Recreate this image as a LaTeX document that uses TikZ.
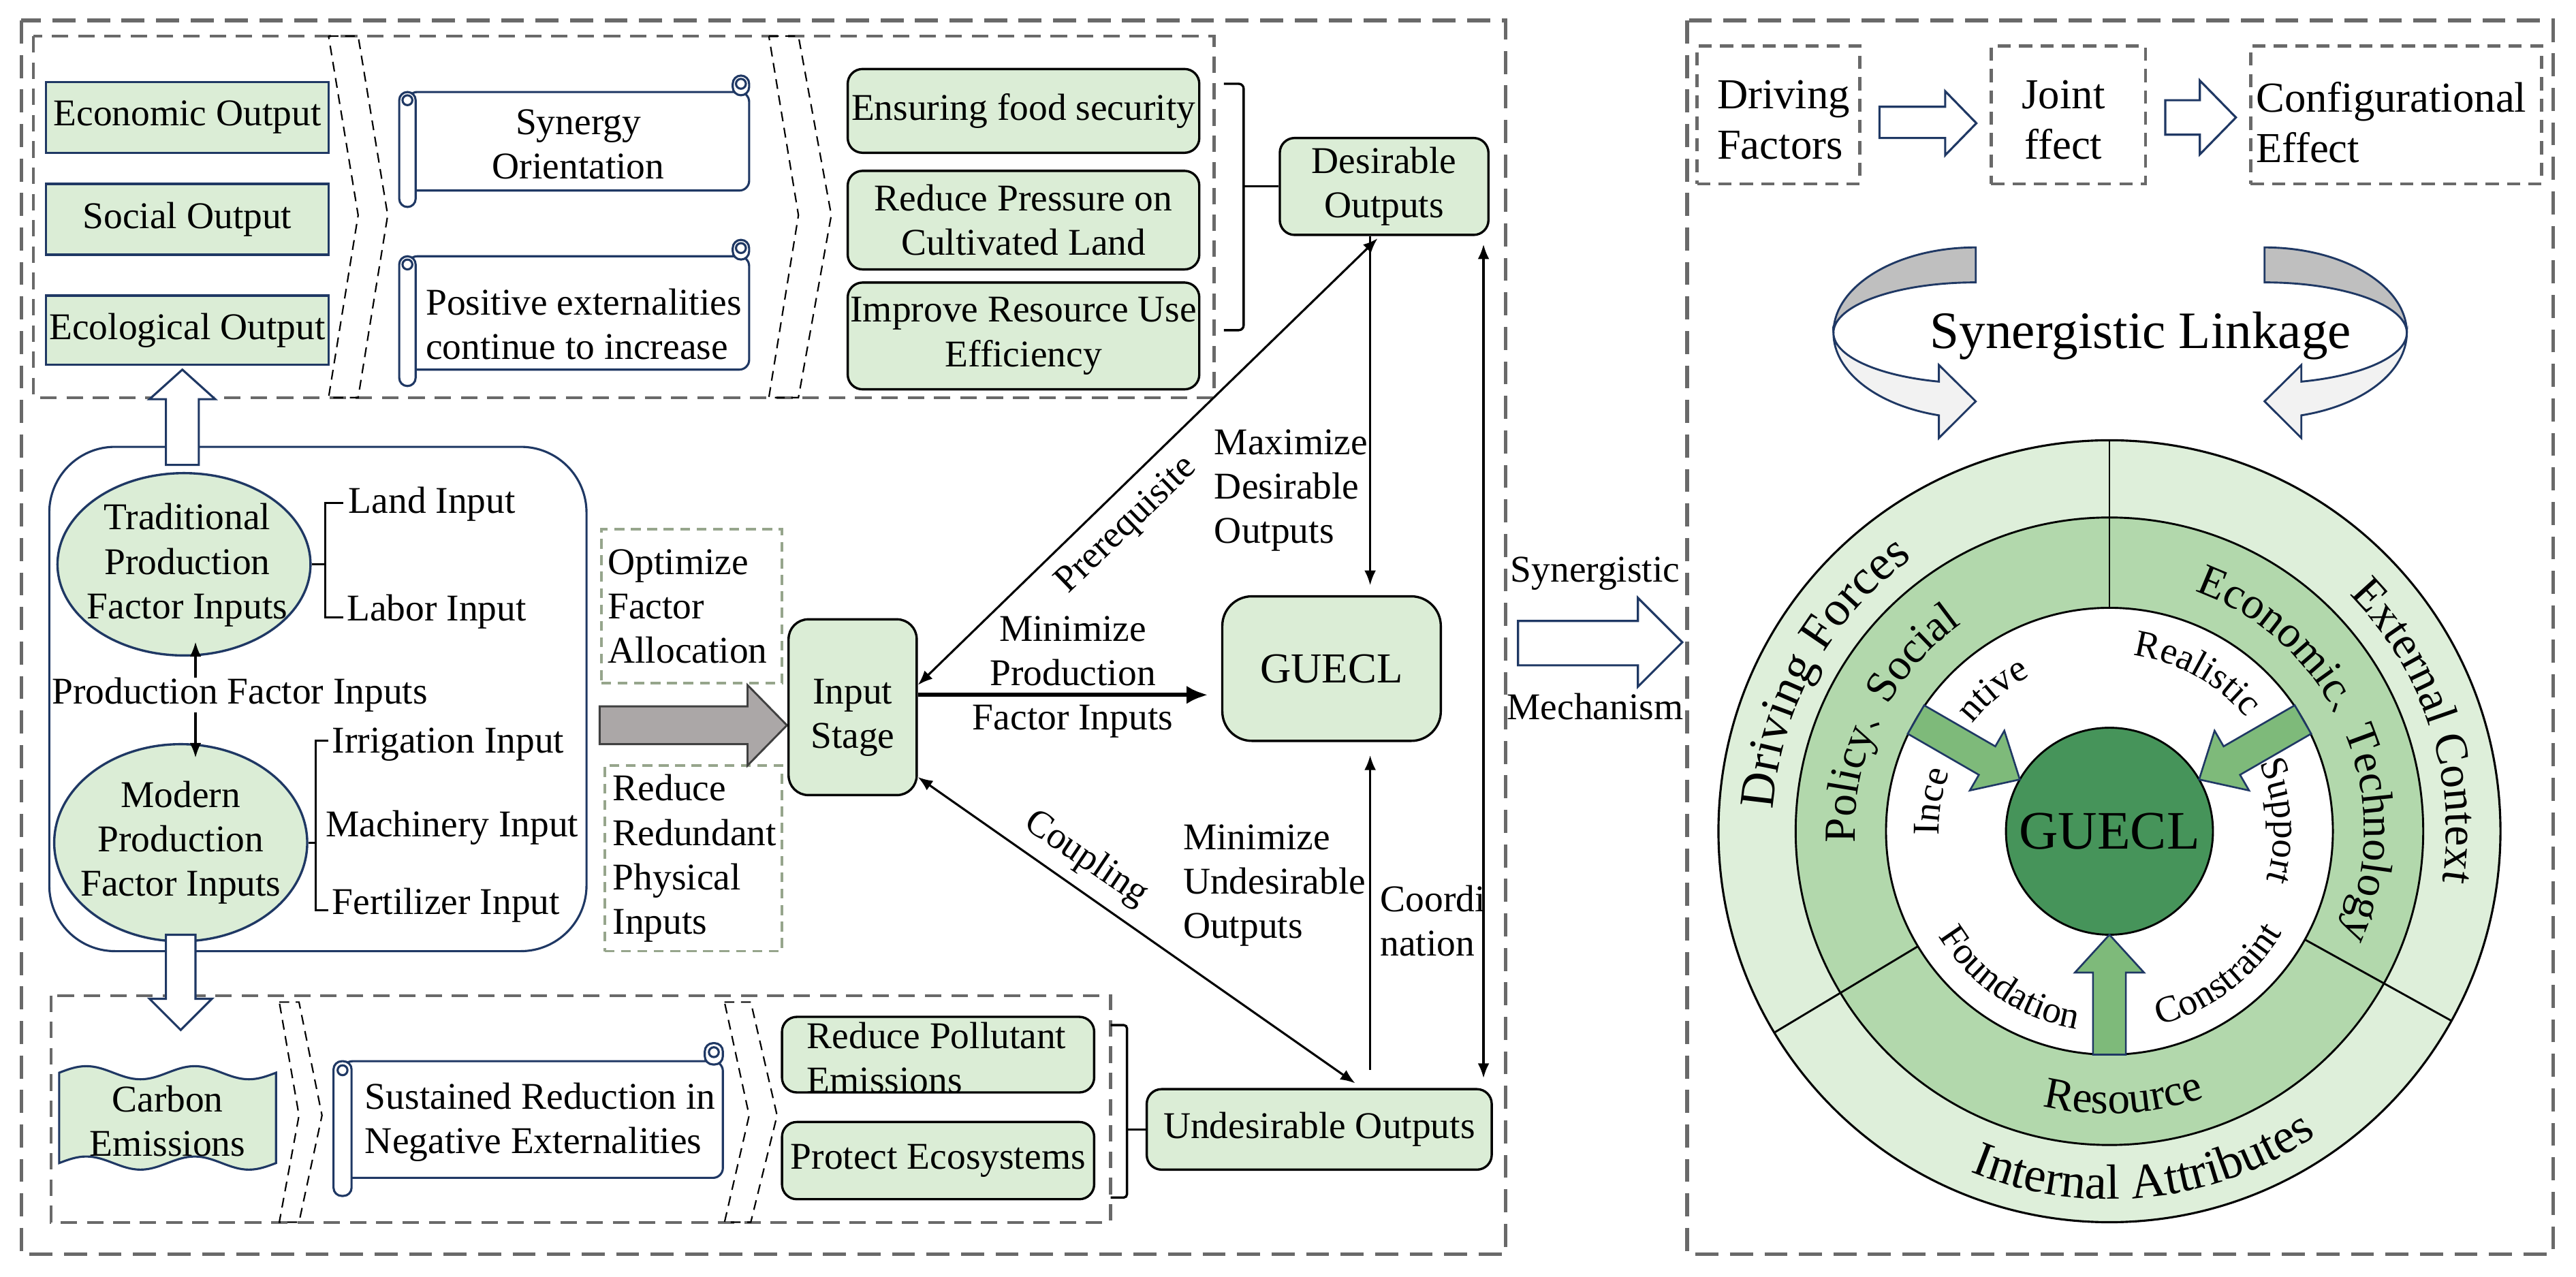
\documentclass[tikz,border=0pt]{standalone}
\usepackage{fontspec}
\setmainfont{Liberation Serif}
\newfontfamily\cjkfam{Noto Sans CJK SC}
\usetikzlibrary{arrows.meta,decorations.text,shapes.geometric,calc}

\definecolor{navy}{RGB}{31,56,100}
\definecolor{lgreen}{RGB}{219,237,214}
\definecolor{ringout}{RGB}{222,239,218}
\definecolor{ringmid}{RGB}{178,216,172}
\definecolor{coreg}{RGB}{70,148,90}
\definecolor{arrg}{RGB}{126,186,122}
\definecolor{dgray}{RGB}{105,105,105}
\definecolor{optg}{RGB}{150,165,140}
\definecolor{bigar}{RGB}{171,167,167}
\definecolor{bandg}{RGB}{191,191,191}
\definecolor{bandl}{RGB}{242,242,242}

\newcommand\ringO{\rmfamily\fontsize{30}{30}\selectfont}
\newcommand\ringE{\rmfamily\fontsize{28}{28}\selectfont}
\newcommand\ringM{\rmfamily\fontsize{27}{27}\selectfont}
\newcommand\cjkM{\cjkfam\fontsize{18}{18}\selectfont}
\newcommand\innT{\rmfamily\fontsize{23}{23}\selectfont}

\newcommand\myscroll[5]{%
  \filldraw[scrl,rounded corners=6pt] (#1+#5/2,#3) -- (#2,#3) -- (#2,#4) -- (#1+#5/2,#4) -- cycle;
  \filldraw[scrl,rounded corners=5pt] (#2-#5,#3+2) rectangle (#2,#3-#5);
  \draw[scrl] (#2-#5/2,#3-#5/2) circle[radius=3pt];
  \filldraw[scrl,rounded corners=5pt] (#1,#3) rectangle (#1+#5,#4+#5);
  \draw[scrl] (#1+#5/2,#3+#5/2) circle[radius=3pt];
}

\newcommand\curvband{%
  \filldraw[fill=bandg,draw=navy,line width=1.2pt] (0,52) arc[start angle=90,end angle=180,x radius=86.6,y radius=52] arc[start angle=180,end angle=90,x radius=86.6,y radius=30.7] -- cycle;
  \filldraw[fill=bandl,draw=navy,line width=1.2pt] (-86.6,0) arc[start angle=180,end angle=255,x radius=86.6,y radius=52] -- (-22.4,-64) -- (0,-41.7) -- (-22.4,-19.6) -- (-22.4,-29.7) arc[start angle=255,end angle=180,x radius=86.6,y radius=30.7] -- cycle;
}

\begin{document}
\begin{tikzpicture}[x=1pt,y=-1pt,font=\fontsize{23}{27}\selectfont,
  bigdash/.style={draw=dgray,line width=2.3pt,dash pattern=on 14pt off 7pt},
  indash/.style={draw=dgray,line width=1.7pt,dash pattern=on 10pt off 6pt},
  smbox/.style={draw=dgray,line width=1.8pt,dash pattern=on 8pt off 5pt,inner sep=0pt},
  chev/.style={draw=black,line width=0.9pt,dash pattern=on 6pt off 4pt},
  sqbox/.style={draw=navy,line width=1.4pt,fill=lgreen,minimum width=172pt,inner sep=0pt},
  rbox/.style={draw=black,line width=1.4pt,fill=lgreen,rounded corners=9pt,inner sep=0pt,align=center},
  optbox/.style={draw=optg,line width=1.6pt,dash pattern=on 6pt off 4pt,align=left,inner sep=0pt},
  lab/.style={inner sep=0pt,align=left},
  labc/.style={inner sep=0pt,align=center},
  scrl/.style={draw=navy,fill=white,line width=1.3pt},
  blk/.style={draw=navy,fill=white,line width=1.3pt},
  arr/.style={-{Latex[length=9pt,width=7pt]},line width=1.3pt},
  darr/.style={{Latex[length=9pt,width=7pt]}-{Latex[length=9pt,width=7pt]},line width=1.3pt},
  thickarr/.style={-{Latex[length=13pt,width=11pt]},line width=2.6pt},
  elli/.style={ellipse,draw=navy,line width=1.4pt,fill=lgreen,inner sep=0pt}
]
\useasboundingbox (0,0) rectangle (1568,777);
\fill[white] (0,0) rectangle (1568,777);

% ---------- frames ----------
\draw[bigdash] (13,12.5) rectangle (916.5,763.5);
\draw[bigdash] (1027,12.5) rectangle (1554,763.5);
\draw[indash] (20.5,22) rectangle (739,242);
\draw[indash] (31,606) rectangle (676,744);

% chevrons
\draw[chev] (200,22) -- (218,22) -- (236,131) -- (218,242) -- (200,242) -- (218,131) -- cycle;
\draw[chev] (468,22) -- (486,22) -- (506,131) -- (486,242) -- (468,242) -- (486,131) -- cycle;
\draw[chev] (170,610) -- (182,610) -- (196,679) -- (182,744) -- (170,744) -- (182,679) -- cycle;
\draw[chev] (441,610) -- (457,610) -- (473,679) -- (457,744) -- (441,744) -- (456,679) -- cycle;

% ---------- top row ----------
\node[sqbox,minimum height=43pt] (eco) at (114,71.5) {Economic Output};
\node[sqbox,minimum height=43pt] (soc) at (114,133.5) {Social Output};
\node[sqbox,minimum height=42pt] (ecl) at (114,201) {Ecological Output};

\myscroll{243}{456}{56}{116}{10}
\node[labc] (syn) at (352,88) {Synergy\\Orientation};
\myscroll{243}{456}{156}{225}{10}
\node[lab,anchor=west] (pos) at (259,197.5) {Positive externalities\\continue to increase};

\node[rbox,minimum width=214pt,minimum height=51pt] (food) at (623,67.5) {Ensuring food security};
\node[rbox,minimum width=214pt,minimum height=60pt] (pres) at (623,134) {Reduce Pressure on\\Cultivated Land};
\node[rbox,minimum width=214pt,minimum height=65pt] (impr) at (623,204.5) {Improve Resource Use\\Efficiency};

\node[rbox,minimum width=127pt,minimum height=59pt] (des) at (842.5,113.5) {Desirable\\Outputs};
\coordinate (brA) at (757,0);
\draw[line width=1.4pt,rounded corners=3pt] (745,51) -- (757,51) -- (757,201) -- (745,201);
\draw[line width=1.4pt] (des.west) -- (des.west -| brA);

% ---------- production factors ----------
\draw[navy,line width=1.3pt,rounded corners=40pt] (30,272) rectangle (357,579);
\node[elli,minimum width=154pt,minimum height=111pt] (trad) at (112,343.5) {};
\node[labc] (tradt) at (114,344) {Traditional\\Production\\Factor Inputs};
\node[elli,minimum width=154pt,minimum height=120pt] (mod) at (110,513) {};
\node[labc] (modt) at (110,513) {Modern\\Production\\Factor Inputs};

\coordinate (bx1) at (198,0);
\draw[line width=1.3pt] (209,306) -- (198,306) -- (198,376) -- (209,376);
\draw[line width=1.3pt] (trad.east) -- (trad.east -| bx1);
\node[lab,anchor=west] (land) at (212,307) {Land Input};
\node[lab,anchor=west] (labor) at (211,372.5) {Labor Input};

\coordinate (bx2) at (192,0);
\draw[line width=1.3pt] (200,451) -- (192,451) -- (192,554) -- (200,554);
\draw[line width=1.3pt] (mod.east) -- (mod.east -| bx2);
\node[lab,anchor=west] (irr) at (202,453) {Irrigation Input};
\node[lab,anchor=west] (mach) at (198,504) {Machinery Input};
\node[lab,anchor=west] (fert) at (202,551) {Fertilizer Input};

\node[labc] (pfi) at (146,423) {Production Factor Inputs};
\coordinate (xu) at (119,0);
\draw[arr,shorten >=-9pt] (pfi.north -| xu) -- (trad.south -| xu);
\draw[arr,shorten >=-9pt] (pfi.south -| xu) -- (mod.north -| xu);

\filldraw[blk] (101,283) -- (101,243) -- (91,243) -- (111,225) -- (131,243) -- (121,243) -- (121,283) -- cycle;
\filldraw[blk] (101,569) -- (101,608) -- (91,608) -- (110,627) -- (129,608) -- (119,608) -- (119,569) -- cycle;

\node[optbox,minimum width=110pt,minimum height=94pt,text width=102pt] (opt) at (421,369) {Optimize\\Factor\\Allocation};
\node[optbox,minimum width=108pt,minimum height=113pt,text width=98pt] (red) at (422,522.5) {Reduce\\Redundant\\Physical\\Inputs};

\filldraw[fill=bigar,draw=black!75,line width=1.2pt] (365,430) -- (455,430) -- (455,417) -- (479,441.5) -- (455,466) -- (455,453) -- (365,453) -- cycle;

\node[rbox,rounded corners=12pt,minimum width=78pt,minimum height=107pt] (inp) at (519,430.5) {};
\node[labc] (inpt) at (519,437) {Input\\Stage};
\node[rbox,rounded corners=18pt,minimum width=133pt,minimum height=88pt,font=\fontsize{26}{30}\selectfont] (guecl) at (810.5,407) {GUECL};
\node[rbox,minimum width=210pt,minimum height=49pt] (undes) at (803,687.5) {Undesirable Outputs};

% ---------- bottom row ----------
\filldraw[fill=lgreen,draw=navy,line width=1.3pt] (36,653) sin (52.5,649) cos (69,653) sin (85.5,657) cos (102,653) sin (118.5,649) cos (135,653) sin (151.5,657) cos (168,653) -- (168,708) sin (151.5,712) cos (135,708) sin (118.5,704) cos (102,708) sin (85.5,712) cos (69,708) sin (52.5,704) cos (36,708) -- cycle;
\node[labc] (carb) at (102,682.5) {Carbon\\Emissions};
\myscroll{203}{440}{646}{717}{11}
\node[lab,anchor=west] (sust) at (222,683) {Sustained Reduction in\\Negative Externalities};

\node[rbox,minimum width=190pt,minimum height=46pt] (rpol) at (571,642) {};
\node[lab,anchor=west] (rpolt) at (491,644) {Reduce Pollutant\\Emissions};
\node[rbox,minimum width=190pt,minimum height=47pt] (prot) at (571,706.5) {Protect Ecosystems};
\coordinate (brB) at (686,0);
\draw[line width=1.4pt,rounded corners=2pt] (676,624) -- (686,624) -- (686,729) -- (676,729);
\draw[line width=1.4pt] (undes.west) -- (undes.west -| brB);

% ---------- connectors ----------
\coordinate (xa) at (834,0);
\coordinate (xb) at (903,0);
\coordinate (xp) at (840,0);
\coordinate (xc) at (829,0);
\coordinate (ya) at (0,423);
\coordinate (yp) at (0,417);
\coordinate (yc) at (0,473);
\draw[arr,shorten >=6pt] (des.south -| xa) -- (guecl.north -| xa);
\draw[arr,shorten <=11pt,shorten >=8pt] (undes.north -| xa) -- (guecl.south -| xa);
\draw[darr,shorten <=5pt,shorten >=6pt] (des.south -| xb) -- (undes.north -| xb);
\draw[darr,shorten <=2pt] (des.south -| xp) -- (inp.east |- yp);
\draw[darr,shorten >=5pt] (inp.east |- yc) -- (undes.north -| xc);
\draw[thickarr,shorten >=8pt] (inp.east |- ya) -- (guecl.west |- ya);

\node[lab,anchor=west] (maxl) at (739,298.5) {Maximize\\Desirable\\Outputs};
\node[labc] (minp) at (653,412) {Minimize\\Production\\Factor Inputs};
\node[lab,anchor=west] (minu) at (720,539) {Minimize\\Undesirable\\Outputs};
\node[lab,anchor=west] (coord) at (840,560.5) {Coordi\\nation};
\node[inner sep=0pt,rotate=44] (prq) at (686,320) {Prerequisite};
\node[inner sep=0pt,rotate=-34] (coup) at (661,523) {Coupling};

% synergistic mechanism
\filldraw[blk] (924,378) -- (997,378) -- (997,364) -- (1024,391) -- (997,418) -- (997,405) -- (924,405) -- cycle;
\node[labc] (synm1) at (971,349) {Synergistic};
\node[labc] (synm2) at (971,430) {Mechanism};

% ---------- right panel ----------
\node[smbox,minimum width=99pt,minimum height=84pt] (dfb) at (1082.5,70) {};
\node[lab,anchor=west,font=\fontsize{26}{31}\selectfont] (dft) at (1045,73) {Driving\\Factors};
\node[smbox,minimum width=94pt,minimum height=84pt] (jeb) at (1259,70) {};
\node[labc,font=\fontsize{26}{31}\selectfont] (jet) at (1256,73) {Joint\\ffect};
\node[smbox,minimum width=177pt,minimum height=84pt] (ceb) at (1458.5,70) {};
\node[lab,anchor=west,font=\fontsize{26}{31}\selectfont] (cet) at (1373,74.5) {Configurational\\Effect};
\filldraw[blk] (1144,65) -- (1184,65) -- (1184,55.5) -- (1203,75) -- (1184,94.5) -- (1184,84) -- (1144,84) -- cycle;
\filldraw[blk] (1318,61) -- (1339,61) -- (1339,49) -- (1361,71.5) -- (1339,94) -- (1339,82) -- (1318,82) -- cycle;

\begin{scope}[shift={(1202.6,202.6)},y=1pt]
  \curvband
\end{scope}
\begin{scope}[shift={(1378.4,202.6)},y=1pt,xscale=-1]
  \curvband
\end{scope}
\node[labc,font=\fontsize{32}{36}\selectfont] (sl) at (1303,204.5) {Synergistic Linkage};

\begin{scope}[shift={(1284,506)},y=1pt]
  \fill[ringout] (0,0) circle[radius=238];
  \fill[ringmid] (0,0) circle[radius=191];
  \fill[white] (0,0) circle[radius=136];
  \draw[line width=1.3pt] (0,0) circle[radius=238];
  \draw[line width=1.2pt] (0,0) circle[radius=191];
  \draw[line width=1.2pt] (0,0) circle[radius=136];
  \foreach \a in {90,211,331} \draw[line width=1.2pt] (\a:136) -- (\a:238);
  \path[decorate,decoration={text along path,text align=center,text={|\ringO|Driving Forces}}] (201:205) arc (201:101:205);
  \path[decorate,decoration={text along path,text align=center,text={|\ringE|External Context}}] (68:205) arc (68:-32:205);
  \path[decorate,decoration={text along path,text align=center,text={|\ringO|Internal Attributes}}] (226:224) arc (226:326:224);
  \path[decorate,decoration={text along path,text align=center,text={|\ringM|Policy|\cjkM|、|\ringM|Social}}] (204:155) arc (204:104:155);
  \path[decorate,decoration={text along path,text align=center,text={|\ringM|Economic|\cjkM|、|\ringM|Technology}}] (83:155) arc (83:-37:155);
  \path[decorate,decoration={text along path,text align=center,text={|\ringM|Resource}}] (233:172) arc (233:313:172);
  \path[decorate,decoration={text along path,text align=center,text={|\innT|Ince}}] (200.5:104) arc (200.5:140.5:104);
  \path[decorate,decoration={text along path,text align=center,text={|\innT|ntive}}] (159.5:106) arc (159.5:99.5:106);
  \path[decorate,decoration={text along path,text align=center,text={|\innT|Realistic}}] (91:108) arc (91:31:108);
  \path[decorate,decoration={text along path,text align=center,text={|\innT|Support}}] (33.5:100) arc (33.5:-26.5:100);
  \path[decorate,decoration={text along path,text align=center,text={|\innT|Foundation}}] (206:122) arc (206:266:122);
  \path[decorate,decoration={text along path,text align=center,text={|\innT|Constraint}}] (277:122) arc (277:337:122);
  \node[circle,draw=black,line width=1.2pt,fill=coreg,minimum size=126pt,inner sep=0pt,font=\fontsize{33}{33}\selectfont] (core) at (0,0) {GUECL};
  \foreach \a in {150,30,270} \filldraw[fill=arrg,draw=navy,line width=1.1pt,rotate=\a] (136,10) -- (86,10) -- (86,21) -- (63,0) -- (86,-21) -- (86,-10) -- (136,-10) -- cycle;
\end{scope}
\end{tikzpicture}
\end{document}
